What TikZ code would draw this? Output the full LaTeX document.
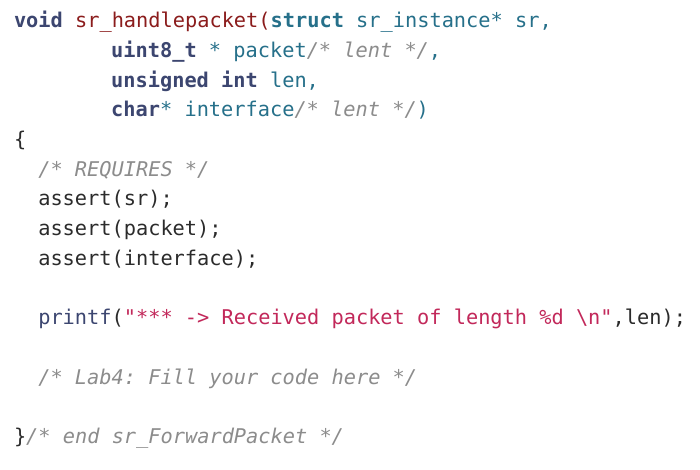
\documentclass[tikz,border=0pt]{standalone}
\usepackage{fontspec}
\setmonofont{DejaVu Sans Mono}
\definecolor{kwc}{HTML}{3C4670}
\definecolor{fnc}{HTML}{8B1C1C}
\definecolor{parc}{HTML}{26708A}
\definecolor{cmc}{HTML}{8C8C8C}
\definecolor{txc}{HTML}{2B2B2B}
\definecolor{strc}{HTML}{C2285A}
\newcommand{\kw}[1]{\textcolor{kwc}{\bfseries #1}}
\newcommand{\fn}[1]{\textcolor{fnc}{#1}}
\newcommand{\pa}[1]{\textcolor{parc}{#1}}
\newcommand{\cm}[1]{\textcolor{cmc}{\itshape #1}}
\newcommand{\st}[1]{\textcolor{strc}{#1}}
\newcommand{\fc}[1]{\textcolor{kwc}{#1}}
\begin{document}
\begin{tikzpicture}[x=1pt,y=-1pt,
  codeline/.style={anchor=base west,inner sep=0pt,outer sep=0pt,
    font=\ttfamily\fontsize{20.3}{24}\selectfont,text=txc}]
\useasboundingbox[fill=white] (0,0) rectangle (700,469);
\def\lx{14}
\def\ix{111.2}
\def\bx{38.3}
\node[codeline] (l1) at (\lx,27.7) {\kw{void} \fn{sr\_handlepacket(}\pa{\textbf{struct} sr\_instance* sr,}};
\node[codeline] (l2) at (\ix,57.4) {\kw{uint8\_t} \pa{* packet}\cm{/* lent */}\pa{,}};
\node[codeline] (l3) at (\ix,87.1) {\kw{unsigned int} \pa{len,}};
\node[codeline] (l4) at (\ix,116.8) {\kw{char}\pa{* interface}\cm{/* lent */}\pa{)}};
\node[codeline] (l5) at (\lx,146.5) {\{};
\node[codeline] (l6) at (\bx,176.2) {\cm{/* REQUIRES */}};
\node[codeline] (l7) at (\bx,205.9) {assert(sr);};
\node[codeline] (l8) at (\bx,235.6) {assert(packet);};
\node[codeline] (l9) at (\bx,265.3) {assert(interface);};
\node[codeline] (l11) at (\bx,324.7) {\fc{printf}(\st{"*** -> Received packet of length \%d \textbackslash n"},len);};
\node[codeline] (l13) at (\bx,384.1) {\cm{/* Lab4: Fill your code here */}};
\node[codeline] (l15) at (\lx,443.5) {\}\cm{/* end sr\_ForwardPacket */}};
\end{tikzpicture}
\end{document}
